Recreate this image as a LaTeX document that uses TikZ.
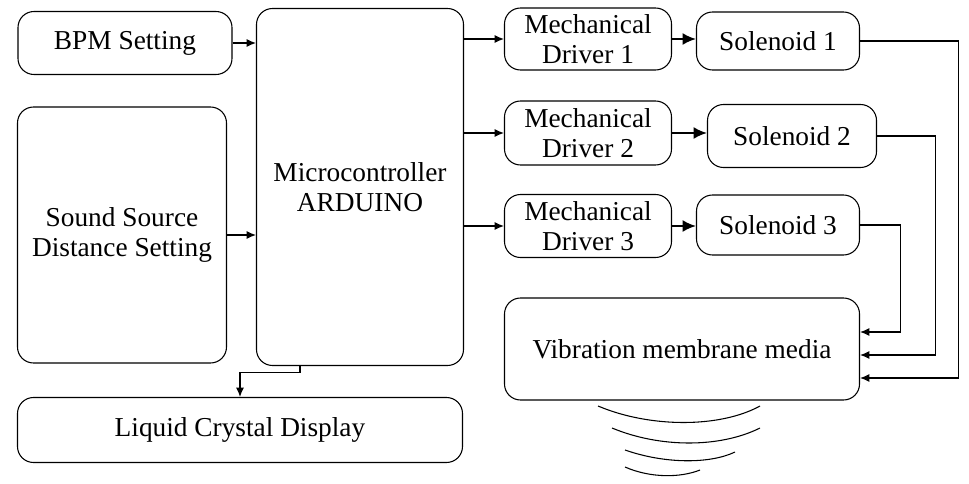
\documentclass[tikz,border=0pt]{standalone}
\usepackage{fontspec}
\setmainfont{Liberation Serif}
\usetikzlibrary{arrows.meta}
\tikzset{>={Latex[length=7pt,width=6pt]},
  blk/.style={draw, thick, rounded corners=12pt, align=center, font=\fontsize{20.5}{23}\selectfont, inner sep=2pt},
  link/.style={thick, ->},
  fat/.style={line width=1.6pt, -{Latex[length=10pt,width=9pt]}}}
\begin{document}
\begin{tikzpicture}[x=0.75pt,y=-0.75pt]
    \useasboundingbox (0,0) rectangle (969,484);
    % input blocks
    \node[blk, minimum width=214*0.75pt, minimum height=63*0.75pt] (bpm) at (125,43) {BPM Setting};
    \node[blk, minimum width=209*0.75pt, minimum height=256*0.75pt] (snd) at (122,235) {Sound Source\\Distance Setting};
    \node[blk, minimum width=207*0.75pt, minimum height=357*0.75pt] (mcu) at (360,187) {Microcontroller\\ARDUINO};
    \node[blk, minimum width=445*0.75pt, minimum height=65*0.75pt] (lcd) at (240,430) {Liquid Crystal Display};
    % drivers and solenoids
    \node[blk, minimum width=167*0.75pt, minimum height=62*0.75pt] (drv1) at (588,39) {Mechanical\\Driver 1};
    \node[blk, minimum width=167*0.75pt, minimum height=64*0.75pt] (drv2) at (588,133) {Mechanical\\Driver 2};
    \node[blk, minimum width=167*0.75pt, minimum height=63*0.75pt] (drv3) at (588,226) {Mechanical\\Driver 3};
    \node[blk, minimum width=163*0.75pt, minimum height=58*0.75pt] (sol1) at (778,41) {Solenoid 1};
    \node[blk, minimum width=169*0.75pt, minimum height=63*0.75pt] (sol2) at (792,136) {Solenoid 2};
    \node[blk, minimum width=163*0.75pt, minimum height=60*0.75pt] (sol3) at (778,225) {Solenoid 3};
    \node[blk, minimum width=355*0.75pt, minimum height=102*0.75pt] (vib) at (682,349) {Vibration membrane media};

    \draw[link] (bpm.east) -- (bpm.east -| mcu.west);
    \draw[link] (snd.east) -- (snd.east -| mcu.west);
    \draw[link] (mcu.east |- drv1.west) -- (drv1.west);
    \draw[link] (mcu.east |- drv2.west) -- (drv2.west);
    \draw[link] (mcu.east |- drv3.west) -- (drv3.west);
    \draw[fat] (drv1.east) -- (drv1.east -| sol1.west);
    \draw[fat] (drv2.east) -- (drv2.east -| sol2.west);
    \draw[fat] (drv3.east) -- (drv3.east -| sol3.west);
    \draw[link] (sol1.east) -- ++(98,0) |- (vib.east |- 0,378);
    \draw[link] (sol2.east) -- ++(58,0) |- (vib.east |- 0,355);
    \draw[link] (sol3.east) -- ++(40,0) |- (vib.east |- 0,332);
    \draw[link] (mcu.south -| 300,0) -- ++(0,6) -| (lcd.north -| 240,0);

    % sound waves
    \draw[thick] (598,406) .. controls (650,428) and (720,428) .. (760,406);
    \draw[thick] (612,428) .. controls (660,448) and (720,448) .. (760,428);
    \draw[thick] (625,450) .. controls (665,464) and (710,464) .. (735,452);
    \draw[thick] (625,467) .. controls (650,478) and (680,478) .. (700,470);
\end{tikzpicture}
\end{document}
